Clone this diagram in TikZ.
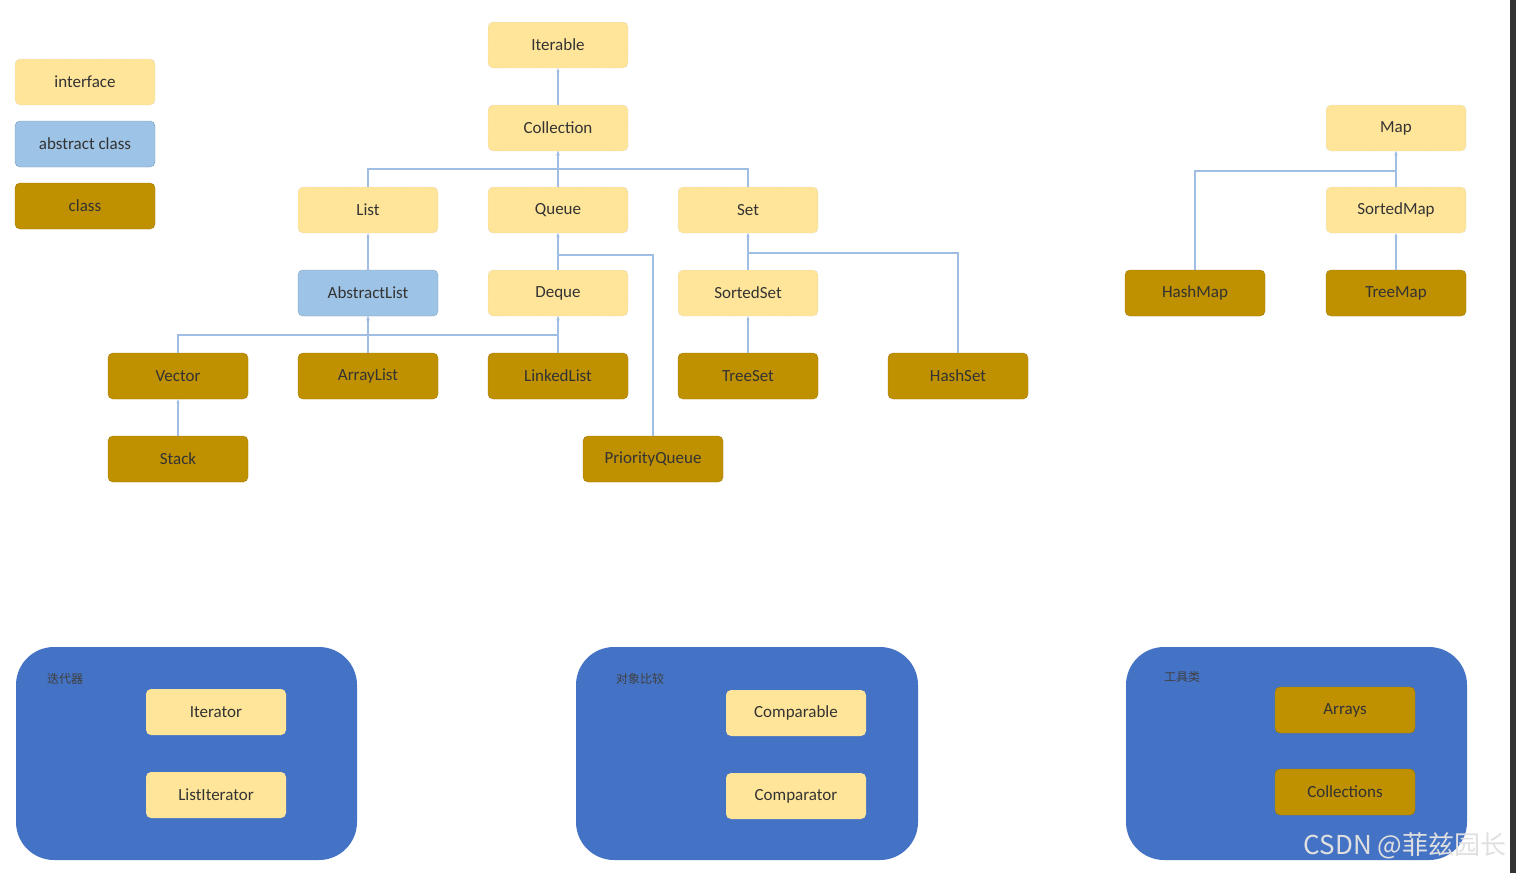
\documentclass[tikz,border=0pt]{standalone}
\usepackage{fontspec}
\setmainfont{Carlito}
\newfontfamily\cjk{Noto Sans CJK SC}
\usetikzlibrary{arrows.meta}
\definecolor{ifc}{RGB}{255,229,153}
\definecolor{abc}{RGB}{157,195,230}
\definecolor{clc}{RGB}{191,144,0}
\definecolor{pnl}{RGB}{68,114,196}
\definecolor{lnc}{RGB}{160,190,228}
\begin{document}
\begin{tikzpicture}[x=1pt,y=-1pt,
  box/.style={rounded corners=5pt,minimum width=140pt,minimum height=46pt,inner sep=0pt,font=\fontsize{17}{17}\selectfont,text=black!80},
  ifb/.style={box,fill=ifc,draw=black!25,densely dotted},
  abb/.style={box,fill=abc,draw=abc!80!black},
  clb/.style={box,fill=clc,draw=clc!85!black},
  pnl/.style={fill=pnl,rounded corners=38pt},
  lbl/.style={font=\cjk\fontsize{12}{12}\selectfont,text=black!75},
  ln/.style={draw=lnc,line width=1.2pt,-{Stealth[length=4pt,width=3pt]}}]
\useasboundingbox (0,0) rectangle (1516,873);
\fill[black!80] (1510,0) rectangle (1516,873);
% legend
\node[ifb] (lint) at (85,82) {interface};
\node[abb] (labs) at (85,144) {abstract class};
\node[clb] (lcls) at (85,206) {class};
% hierarchy
\node[ifb] (iterable) at (558,45) {Iterable};
\node[ifb] (collection) at (558,128) {Collection};
\node[ifb] (list) at (368,210) {List};
\node[ifb] (queue) at (558,210) {Queue};
\node[ifb] (set) at (748,210) {Set};
\node[abb] (abslist) at (368,293) {AbstractList};
\node[ifb] (deque) at (558,293) {Deque};
\node[ifb] (sortedset) at (748,293) {SortedSet};
\node[clb] (vector) at (178,376) {Vector};
\node[clb] (arraylist) at (368,376) {ArrayList};
\node[clb] (linkedlist) at (558,376) {LinkedList};
\node[clb] (treeset) at (748,376) {TreeSet};
\node[clb] (hashset) at (958,376) {HashSet};
\node[clb] (stack) at (178,459) {Stack};
\node[clb] (pq) at (653,459) {PriorityQueue};
\node[ifb] (map) at (1396,128) {Map};
\node[ifb] (sortedmap) at (1396,210) {SortedMap};
\node[clb] (hashmap) at (1195,293) {HashMap};
\node[clb] (treemap) at (1396,293) {TreeMap};
% connectors
\draw[ln] (collection) -- (iterable);
\draw[ln] (list.north) |- (558,169) -- (collection.south);
\draw[ln] (queue) -- (collection);
\draw[ln] (set.north) |- (558,169) -- (collection.south);
\draw[ln] (abslist) -- (list);
\draw[ln] (deque) -- (queue);
\draw[ln] (pq.north) |- (558,255) -- (queue.south);
\draw[ln] (sortedset) -- (set);
\draw[ln] (hashset.north) |- (748,253) -- (set.south);
\draw[ln] (vector.north) |- (368,335) -- (abslist.south);
\draw[ln] (arraylist) -- (abslist);
\draw[ln] (vector.north) |- (558,335) -- (deque.south);
\draw[ln] (linkedlist) -- (deque);
\draw[ln] (linkedlist.north) |- (368,335) -- (abslist.south);
\draw[ln] (stack) -- (vector);
\draw[ln] (treeset) -- (sortedset);
\draw[ln] (hashmap.north) |- (1396,171) -- (map.south);
\draw[ln] (sortedmap) -- (map);
\draw[ln] (treemap) -- (sortedmap);
% panels
\fill[pnl] (16,647) rectangle (357,860);
\fill[pnl] (576,647) rectangle (918,860);
\fill[pnl] (1126,647) rectangle (1467,860);
\node[lbl] (p1) at (65,679) {迭代器};
\node[lbl] (p2) at (640,679) {对象比较};
\node[lbl] (p3) at (1182,677) {工具类};
\node[ifb,draw=none] (iterator) at (216,712) {Iterator};
\node[ifb,draw=none] (listiter) at (216,795) {ListIterator};
\node[ifb,draw=none] (comparable) at (796,713) {Comparable};
\node[ifb,draw=none] (comparator) at (796,796) {Comparator};
\node[clb] (arrays) at (1345,710) {Arrays};
\node[clb] (collections) at (1345,792) {Collections};
\node[font=\cjk\fontsize{26}{26}\selectfont,text=black!12,anchor=east] (wm) at (1510,846) {CSDN @菲兹园长};
\end{tikzpicture}
\end{document}
